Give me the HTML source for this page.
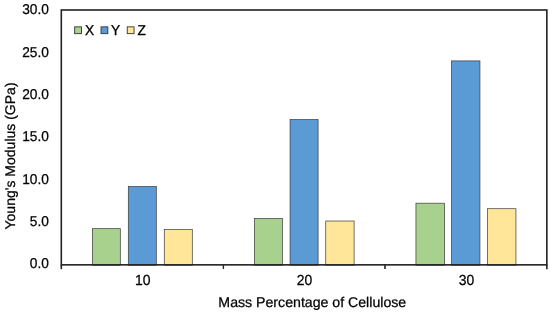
<!DOCTYPE html><html><head><meta charset="utf-8"><title>Chart</title><style>html,body{margin:0;padding:0;background:#fff}svg{display:block}text{font-family:"Liberation Sans",Arial,sans-serif;fill:#000;stroke:#000;stroke-width:0.25px;text-rendering:geometricPrecision}</style></head><body>
<svg width="550" height="314" viewBox="0 0 550 314">
<rect width="550" height="314" fill="#fff"/>
<rect x="92.35" y="228.67" width="27.95" height="36.53" fill="#a9d18e" stroke="#3a3a3a" stroke-width="0.7"/>
<rect x="128.30" y="186.54" width="28.00" height="78.66" fill="#5b9bd5" stroke="#3a3a3a" stroke-width="0.7"/>
<rect x="164.25" y="229.52" width="28.05" height="35.68" fill="#ffe699" stroke="#3a3a3a" stroke-width="0.7"/>
<rect x="254.35" y="218.48" width="28.00" height="46.72" fill="#a9d18e" stroke="#3a3a3a" stroke-width="0.7"/>
<rect x="290.05" y="119.60" width="28.05" height="145.60" fill="#5b9bd5" stroke="#3a3a3a" stroke-width="0.7"/>
<rect x="325.75" y="221.03" width="28.35" height="44.17" fill="#ffe699" stroke="#3a3a3a" stroke-width="0.7"/>
<rect x="415.95" y="203.19" width="28.55" height="62.01" fill="#a9d18e" stroke="#3a3a3a" stroke-width="0.7"/>
<rect x="451.60" y="60.90" width="28.35" height="204.30" fill="#5b9bd5" stroke="#3a3a3a" stroke-width="0.7"/>
<rect x="487.55" y="208.71" width="28.40" height="56.49" fill="#ffe699" stroke="#3a3a3a" stroke-width="0.7"/>
<rect x="61.3" y="10.0" width="485.55" height="254.85" fill="none" stroke="#222" stroke-width="1.6"/>
<line x1="61.30" y1="264.85" x2="61.30" y2="269.15" stroke="#222" stroke-width="1.6"/>
<line x1="223.40" y1="264.85" x2="223.40" y2="268.95" stroke="#222" stroke-width="1.35"/>
<line x1="385.00" y1="264.85" x2="385.00" y2="269.05" stroke="#222" stroke-width="1.6"/>
<line x1="546.85" y1="264.85" x2="546.85" y2="269.15" stroke="#222" stroke-width="1.6"/>
<text transform="translate(48.95,268.25) scale(0.967,1)" font-size="14.2" text-anchor="end">0.0</text>
<text transform="translate(48.95,226.47) scale(0.967,1)" font-size="14.2" text-anchor="end">5.0</text>
<text transform="translate(48.95,184.00) scale(0.967,1)" font-size="14.2" text-anchor="end">10.0</text>
<text transform="translate(48.95,141.03) scale(0.967,1)" font-size="14.2" text-anchor="end">15.0</text>
<text transform="translate(48.95,98.90) scale(0.967,1)" font-size="14.2" text-anchor="end">20.0</text>
<text transform="translate(48.95,56.57) scale(0.967,1)" font-size="14.2" text-anchor="end">25.0</text>
<text transform="translate(48.95,14.10) scale(0.967,1)" font-size="14.2" text-anchor="end">30.0</text>
<text transform="translate(142.67,285.45) scale(0.955,1)" font-size="14.6" text-anchor="middle">10</text>
<text transform="translate(304.52,285.45) scale(0.955,1)" font-size="14.6" text-anchor="middle">20</text>
<text transform="translate(466.38,285.45) scale(0.955,1)" font-size="14.6" text-anchor="middle">30</text>
<text x="312.3" y="307" font-size="14.15" text-anchor="middle">Mass Percentage of Cellulose</text>
<text transform="translate(15.3,155.95) rotate(-90)" font-size="14.02" text-anchor="middle">Young's Modulus (GPa)</text>
<rect x="74.65" y="26.85" width="6.8" height="6.8" fill="#a9d18e" stroke="#333" stroke-width="0.9"/>
<text transform="translate(85.05,34.5) scale(0.967,1)" font-size="14.2" style="stroke-width:0.35px">X</text>
<rect x="101.05" y="26.85" width="6.8" height="6.8" fill="#5b9bd5" stroke="#333" stroke-width="0.9"/>
<text transform="translate(111.0,34.5) scale(0.967,1)" font-size="14.2" style="stroke-width:0.35px">Y</text>
<rect x="127.25" y="26.85" width="6.8" height="6.8" fill="#ffe699" stroke="#333" stroke-width="0.9"/>
<text transform="translate(137.45,34.5) scale(0.967,1)" font-size="14.2" style="stroke-width:0.35px">Z</text>
</svg></body></html>
